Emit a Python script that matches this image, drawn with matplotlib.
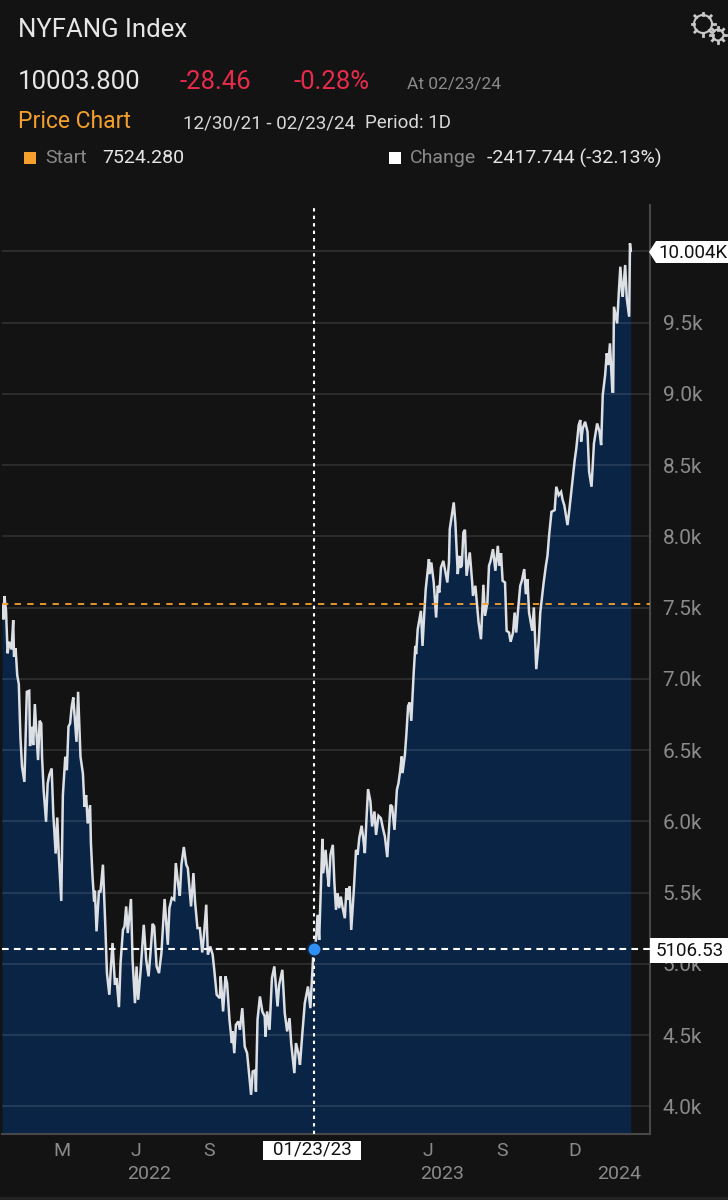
import numpy as np
import pandas as pd
import matplotlib
matplotlib.use('Agg')
import matplotlib.pyplot as plt
from matplotlib.patches import Polygon, Rectangle, Circle

plt.rcParams['font.family'] = ['Roboto', 'DejaVu Sans']

START_DATE = '2021-12-30'
CURSOR_DATE = '2023-01-23'
CURSOR_PRICE = 5106.53
START_PRICE = 7524.28

# days since the start date
days = [
    0, 2, 3, 5, 7, 9, 12, 14, 15, 17, 19, 21, 23, 25, 28, 31, 34, 35, 37, 39,
    41, 43, 45, 47, 49, 50, 52, 55, 57, 59, 62, 64, 67, 69, 71, 74, 76, 79, 81, 83,
    85, 87, 89, 93, 95, 98, 101, 103, 105, 107, 110, 111, 113, 115, 116, 118, 121, 123, 126, 129,
    131, 134, 136, 138, 141, 143, 146, 148, 151, 153, 155, 157, 161, 163, 166, 168, 170, 173, 177, 180,
    183, 186, 188, 190, 193, 196, 199, 203, 207, 209, 212, 215, 217, 220, 222, 224, 227, 230, 232, 236,
    239, 241, 244, 247, 250, 252, 255, 257, 260, 263, 265, 268, 272, 273, 276, 279, 281, 284, 287, 288,
    290, 292, 295, 297, 300, 303, 306, 308, 311, 313, 316, 317, 319, 322, 325, 328, 329, 331, 334, 337,
    340, 344, 346, 350, 353, 356, 359, 361, 365, 367, 370, 372, 375, 378, 382, 385, 389,
    392, 394, 396, 398, 400, 401, 404, 406, 408, 410, 413, 415, 417, 419, 421, 423, 425, 428, 430, 432,
    434, 436, 439, 442, 444, 446, 449, 451, 453, 455, 457, 460, 462, 465, 467, 470, 473, 476, 478, 481,
    485, 487, 490, 493, 495, 497, 499, 500, 503, 505,
    507, 509, 511, 514, 516, 517, 519, 523, 525, 527, 529, 533, 534, 536, 539, 540, 542, 544, 546, 548,
    551, 554, 556, 558, 559, 564, 566, 569, 571, 572, 574, 576, 578, 580, 582, 584, 587, 588, 591, 593,
    595, 598, 601, 603, 606, 608, 610, 613, 616, 619, 621, 623, 625, 628, 630, 633, 635, 638, 640, 642,
    644, 647, 649, 652, 654, 656, 658, 662, 664, 667, 670, 672, 676, 679, 681, 683,
    686, 690, 692, 695, 698, 700, 702, 706, 708, 711, 713, 715, 717, 720, 722, 723, 725, 728, 731, 733,
    736, 739, 743, 746, 748, 750, 753, 755, 757, 759, 762, 763, 764, 768, 770, 772, 774, 775, 778, 780,
    783, 784, 785,
]
prices = [
    7520, 7418, 7582, 7484, 7180, 7261, 7207, 7413, 7156, 7215, 7027, 6964, 6594, 6384, 6278, 6910, 6917, 6529, 6665, 6536,
    6824, 6618, 6431, 6707, 6688, 6454, 6220, 5998, 6267, 6325, 6372, 6056, 5775, 6028, 5752, 5442, 6185, 6454, 6360, 6665,
    6688, 6805, 6870, 6559, 6910, 6454, 6337, 6103, 6185, 5986, 6115, 5850, 5615, 5439, 5514, 5229, 5509, 5509, 5697, 5264,
    4936, 4784, 4983, 5147, 4854, 4901, 4697, 5006, 5240, 5264, 5404, 5217, 5456, 5030, 4725, 4983, 4749, 4948, 5275, 5030,
    4913, 5123, 5282, 5264, 4983, 4936, 5076, 5456, 5135, 5392, 5463, 5451, 5708, 5556, 5479, 5697, 5821, 5697, 5673, 5404,
    5638, 5439, 5252, 5252, 5081, 5193, 5416, 5065, 5123, 5065, 4959, 4784, 4760, 4913, 4667, 4913, 4866, 4608, 4445, 4527,
    4374, 4573, 4597, 4538, 4690, 4421, 4374, 4257, 4082, 4246, 4253, 4105, 4608, 4772, 4667, 4632, 4491, 4667, 4538, 4901,
    4983, 4702, 4854, 4959, 4655, 4527, 4620, 4445, 4234, 4445, 4374, 4293, 4515, 4725, 4842, 4690, 5106,
    5169, 5345, 5169, 5520, 5878, 5637, 5801, 5649, 5544, 5766, 5836, 5567, 5380, 5497, 5392, 5473, 5403, 5321, 5532, 5450,
    5544, 5239, 5497, 5801, 5766, 5883, 5970, 5883, 5778, 6012, 6227, 6140, 5965, 6070, 5906, 6040, 6023, 5941, 5895, 5750,
    6117, 6105, 5941, 6222, 6269, 6351, 6456, 6339, 6468, 6625,
    6811, 6835, 6706, 7045, 7232, 7174, 7349, 7478, 7232, 7443, 7630, 7841, 7736, 7817, 7677, 7595, 7431, 7654, 7607, 7782,
    7829, 7736, 7677, 7817, 8051, 8239, 8098, 7736, 7864, 7782, 7794, 8028, 8047, 7724, 7806, 7888, 7677, 7583, 7654, 7525,
    7396, 7279, 7661, 7443, 7537, 7794, 7829, 7911, 7759, 7934, 7794, 7883, 7689, 7677, 7338, 7326, 7261, 7326, 7466, 7326,
    7466, 7654, 7689, 7771, 7595, 7700, 7466, 7338, 7502, 7069, 7256, 7466, 7665, 7794, 7864, 8005,
    8173, 8185, 8349, 8290, 8313, 8255, 8220, 8080, 8173, 8325, 8431, 8536, 8618, 8782, 8817, 8665, 8758, 8805, 8735, 8454,
    8349, 8653, 8793, 8735, 8641, 8992, 9133, 9285, 9203, 9355, 9016, 9016, 9612, 9495, 9706, 9893, 9718, 9682, 9905, 9671,
    9542, 10057, 10004,
]

ytick_values = [4000, 4500, 5000, 5500, 6000, 6500, 7000, 7500, 8000, 8500, 9000, 9500, 10000]
ytick_labels = ['4.0k', '4.5k', '5.0k', '5.5k', '6.0k', '6.5k', '7.0k', '7.5k', '8.0k', '8.5k', '9.0k', '9.5k', '']
month_dates = ['2022-03-15', '2022-06-15', '2022-09-15', '2023-06-15', '2023-09-15', '2023-12-15']
month_labels = ['M', 'J', 'S', 'J', 'S', 'D']
year_dates = ['2022-07-02', '2023-07-02', '2024-02-08']
year_labels = ['2022', '2023', '2024']

BG = '#131313'
NAVY = '#0a2446'
GREY = '#8a8a8a'
ORANGE = '#f5a02c'
RED = '#e62b4b'
WHITE = '#f2f2f2'

W, H = 728, 1200
dates = pd.Timestamp(START_DATE) + pd.to_timedelta(days, unit='D')

fig = plt.figure(figsize=(W / 100, H / 100), dpi=100, facecolor=BG)
ax = fig.add_axes([2 / W, 1 - 1134 / H, 648 / W, 929 / H], facecolor=BG)

ax.fill_between(dates, prices, 3000, color=NAVY, lw=0, zorder=1)
for v in ytick_values:
    ax.axhline(v, color='white', alpha=0.12, lw=1.2, zorder=2)
ax.plot(dates, prices, color='#dcdfe3', lw=1.8, solid_joinstyle='miter', zorder=3)

ax.axhline(START_PRICE, color=ORANGE, lw=1.3, dashes=(3.5, 3.5), zorder=4)
cursor = pd.Timestamp(CURSOR_DATE)
ax.axhline(CURSOR_PRICE, color='white', lw=1.5, dashes=(3.2, 2.5), zorder=4)
ax.axvline(cursor, color='white', lw=1.5, dashes=(1.6, 2), zorder=4)
ax.plot([cursor], [CURSOR_PRICE], 'o', ms=10, color='#2f8ff5', mec='#0f2238', mew=1.4, zorder=5)

ax.set_xlim(pd.Timestamp(START_DATE), pd.Timestamp(START_DATE) + pd.Timedelta(days=809))
ax.set_ylim(3807, 10326)
for side in ['top', 'left']:
    ax.spines[side].set_visible(False)
for side in ['right', 'bottom']:
    ax.spines[side].set_color('#484848')
    ax.spines[side].set_linewidth(1.5)

ax.yaxis.tick_right()
ax.set_yticks(ytick_values)
ax.set_yticklabels(ytick_labels, fontsize=15, color=GREY)
ax.tick_params(axis='y', length=0, pad=9)
ax.set_xticks(pd.to_datetime(month_dates))
ax.set_xticklabels(month_labels, fontsize=14, color=GREY)
ax.tick_params(axis='x', length=0, pad=6)
for d, label in zip(pd.to_datetime(year_dates), year_labels):
    ax.annotate(label, (d, 0), xycoords=('data', 'axes fraction'), xytext=(0, -40),
                textcoords='offset pixels', ha='center', va='center', fontsize=14, color=GREY)

# header and value flags, placed in picture pixels
top = fig.add_axes([0, 0, 1, 1], facecolor='none')
top.set_xlim(0, W)
top.set_ylim(H, 0)
top.axis('off')


def label(x, y, s, size, color=WHITE, **kw):
    top.text(x, y, s, fontsize=size, color=color, va='center', ha=kw.pop('ha', 'left'), **kw)


label(18, 30, 'NYFANG Index', 18.5, '#e6e6e6')
label(18, 82, '10003.800', 18.5, '#e6e6e6')
label(179, 82, '-28.46', 18.5, RED)
label(294, 82, '-0.28%', 18.5, RED)
label(407, 85, 'At 02/23/24', 12.5, GREY)
label(18, 122, 'Price Chart', 16.5, ORANGE)
label(183, 123, '12/30/21 - 02/23/24', 13.5, '#d8d8d8')
label(365, 123, 'Period: 1D', 13.5, '#d8d8d8')
top.add_patch(Rectangle((24, 152), 12, 12, color=ORANGE, lw=0))
label(45, 158, 'Start', 14, GREY)
label(102, 158, '7524.280', 14, '#e6e6e6')
top.add_patch(Rectangle((389, 152), 12, 12, color='white', lw=0))
label(410, 158, 'Change', 14, GREY)
label(487, 158, '-2417.744 (-32.13%)', 14, '#e6e6e6')

# gear icons
for cx, cy, r, teeth in [(703, 24, 9, 8), (718, 35, 5.5, 8)]:
    top.add_patch(Circle((cx, cy), r, fc='none', ec='#c8c8c8', lw=1.5))
    for a in np.linspace(0, 2 * np.pi, teeth, endpoint=False):
        top.plot([cx + r * np.cos(a), cx + (r + 2.5) * np.cos(a)],
                 [cy + r * np.sin(a), cy + (r + 2.5) * np.sin(a)], color='#c8c8c8', lw=2)

top.add_patch(Polygon([(649, 252), (656, 241), (728, 241), (728, 263), (656, 263)], color='white', lw=0))
label(658, 253, '10.004K', 13.5, '#111111', clip_on=True)
top.add_patch(Rectangle((650, 938), 78, 25, color='white', lw=0))
label(656, 951, '5106.53', 13.5, '#111111', clip_on=True)
top.add_patch(Rectangle((263, 1141), 98, 19, color='white', lw=0))
top.text(312, 1150, '01/23/23', fontsize=13.5, color='#111111', ha='center', va='center')
top.add_patch(Rectangle((0, 1197), W, 3, color='#232323', lw=0))

fig.savefig('out.png', dpi=100, facecolor=BG)
